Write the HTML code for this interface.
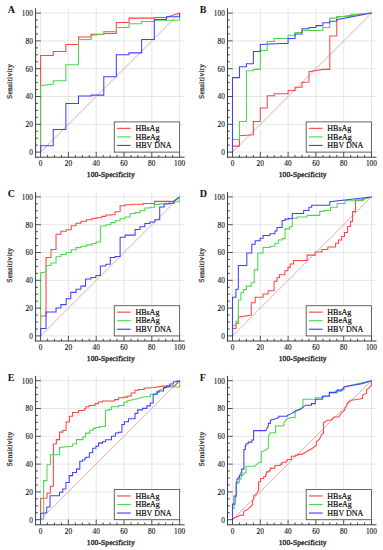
<!DOCTYPE html><html><head><meta charset="utf-8"><style>html,body{margin:0;padding:0;background:#fff;}svg{display:block;}text{font-family:"Liberation Serif",serif;}</style></head><body>
<svg width="383" height="550" viewBox="0 0 383 550">
<rect width="383" height="550" fill="#fff"/>
<line x1="40.60" y1="152.10" x2="184.10" y2="152.10" stroke="#e0e0e0" stroke-width="0.8"/>
<line x1="40.60" y1="152.10" x2="40.60" y2="8.30" stroke="#e0e0e0" stroke-width="0.8"/>
<line x1="40.60" y1="124.30" x2="184.10" y2="124.30" stroke="#e0e0e0" stroke-width="0.8"/>
<line x1="68.40" y1="152.10" x2="68.40" y2="8.30" stroke="#e0e0e0" stroke-width="0.8"/>
<line x1="40.60" y1="96.50" x2="184.10" y2="96.50" stroke="#e0e0e0" stroke-width="0.8"/>
<line x1="96.20" y1="152.10" x2="96.20" y2="8.30" stroke="#e0e0e0" stroke-width="0.8"/>
<line x1="40.60" y1="68.70" x2="184.10" y2="68.70" stroke="#e0e0e0" stroke-width="0.8"/>
<line x1="124.00" y1="152.10" x2="124.00" y2="8.30" stroke="#e0e0e0" stroke-width="0.8"/>
<line x1="40.60" y1="40.90" x2="184.10" y2="40.90" stroke="#e0e0e0" stroke-width="0.8"/>
<line x1="151.80" y1="152.10" x2="151.80" y2="8.30" stroke="#e0e0e0" stroke-width="0.8"/>
<line x1="40.60" y1="13.10" x2="184.10" y2="13.10" stroke="#e0e0e0" stroke-width="0.8"/>
<line x1="179.60" y1="152.10" x2="179.60" y2="8.30" stroke="#e0e0e0" stroke-width="0.8"/>
<line x1="40.60" y1="152.10" x2="179.60" y2="13.10" stroke="#dc9292" stroke-width="0.8"/>
<path d="M40.60,152.10 L40.60,55.50 L53.24,55.50 L53.24,51.46 L65.87,51.46 L65.87,44.51 L78.51,44.51 L78.51,37.01 L91.14,37.01 L91.14,34.37 L103.78,34.37 L103.78,33.39 L116.35,33.39 L116.35,22.55 L129.00,22.55 L129.00,18.10 L154.30,18.10 L154.30,17.41 L166.26,17.41 L179.60,13.10" fill="none" stroke="#ff4444" stroke-width="1.05" stroke-linejoin="miter"/>
<path d="M40.60,152.10 L40.60,85.80 L53.24,84.13 L53.24,80.65 L65.87,80.65 L65.87,64.67 L78.51,64.67 L78.51,39.51 L91.14,39.51 L91.14,35.34 L103.78,34.37 L103.78,31.59 L116.35,31.59 L116.35,27.56 L129.00,27.56 L129.00,23.66 L141.65,23.66 L141.65,21.58 L154.30,21.58 L154.30,20.19 L179.60,20.19 L179.60,17.97 L179.60,13.10" fill="none" stroke="#4cd64c" stroke-width="1.05" stroke-linejoin="miter"/>
<path d="M40.60,152.10 L40.60,145.71 L53.24,145.71 L53.24,129.44 L65.87,129.44 L65.87,103.45 L78.51,103.45 L78.51,96.08 L91.14,96.08 L91.14,95.11 L103.78,95.11 L103.78,94.41 L103.78,76.76 L116.35,76.76 L116.35,54.80 L129.00,54.80 L129.00,52.85 L141.65,52.85 L141.65,39.51 L154.30,39.51 L154.30,19.49 L166.53,19.49 L166.53,16.71 L179.60,16.71 L179.60,13.10" fill="none" stroke="#4040ff" stroke-width="1.05" stroke-linejoin="miter"/>
<line x1="35.60" y1="8.30" x2="35.60" y2="157.70" stroke="#3a3a3a" stroke-width="1"/>
<line x1="35.10" y1="157.20" x2="184.60" y2="157.20" stroke="#3a3a3a" stroke-width="1"/>
<line x1="35.60" y1="152.10" x2="40.80" y2="152.10" stroke="#3a3a3a" stroke-width="0.9"/>
<line x1="40.60" y1="157.20" x2="40.60" y2="152.00" stroke="#3a3a3a" stroke-width="0.9"/>
<line x1="35.60" y1="145.15" x2="37.90" y2="145.15" stroke="#3a3a3a" stroke-width="0.9"/>
<line x1="47.55" y1="157.20" x2="47.55" y2="154.90" stroke="#3a3a3a" stroke-width="0.9"/>
<line x1="35.60" y1="138.20" x2="37.90" y2="138.20" stroke="#3a3a3a" stroke-width="0.9"/>
<line x1="54.50" y1="157.20" x2="54.50" y2="154.90" stroke="#3a3a3a" stroke-width="0.9"/>
<line x1="35.60" y1="131.25" x2="37.90" y2="131.25" stroke="#3a3a3a" stroke-width="0.9"/>
<line x1="61.45" y1="157.20" x2="61.45" y2="154.90" stroke="#3a3a3a" stroke-width="0.9"/>
<line x1="35.60" y1="124.30" x2="40.80" y2="124.30" stroke="#3a3a3a" stroke-width="0.9"/>
<line x1="68.40" y1="157.20" x2="68.40" y2="152.00" stroke="#3a3a3a" stroke-width="0.9"/>
<line x1="35.60" y1="117.35" x2="37.90" y2="117.35" stroke="#3a3a3a" stroke-width="0.9"/>
<line x1="75.35" y1="157.20" x2="75.35" y2="154.90" stroke="#3a3a3a" stroke-width="0.9"/>
<line x1="35.60" y1="110.40" x2="37.90" y2="110.40" stroke="#3a3a3a" stroke-width="0.9"/>
<line x1="82.30" y1="157.20" x2="82.30" y2="154.90" stroke="#3a3a3a" stroke-width="0.9"/>
<line x1="35.60" y1="103.45" x2="37.90" y2="103.45" stroke="#3a3a3a" stroke-width="0.9"/>
<line x1="89.25" y1="157.20" x2="89.25" y2="154.90" stroke="#3a3a3a" stroke-width="0.9"/>
<line x1="35.60" y1="96.50" x2="40.80" y2="96.50" stroke="#3a3a3a" stroke-width="0.9"/>
<line x1="96.20" y1="157.20" x2="96.20" y2="152.00" stroke="#3a3a3a" stroke-width="0.9"/>
<line x1="35.60" y1="89.55" x2="37.90" y2="89.55" stroke="#3a3a3a" stroke-width="0.9"/>
<line x1="103.15" y1="157.20" x2="103.15" y2="154.90" stroke="#3a3a3a" stroke-width="0.9"/>
<line x1="35.60" y1="82.60" x2="37.90" y2="82.60" stroke="#3a3a3a" stroke-width="0.9"/>
<line x1="110.10" y1="157.20" x2="110.10" y2="154.90" stroke="#3a3a3a" stroke-width="0.9"/>
<line x1="35.60" y1="75.65" x2="37.90" y2="75.65" stroke="#3a3a3a" stroke-width="0.9"/>
<line x1="117.05" y1="157.20" x2="117.05" y2="154.90" stroke="#3a3a3a" stroke-width="0.9"/>
<line x1="35.60" y1="68.70" x2="40.80" y2="68.70" stroke="#3a3a3a" stroke-width="0.9"/>
<line x1="124.00" y1="157.20" x2="124.00" y2="152.00" stroke="#3a3a3a" stroke-width="0.9"/>
<line x1="35.60" y1="61.75" x2="37.90" y2="61.75" stroke="#3a3a3a" stroke-width="0.9"/>
<line x1="130.95" y1="157.20" x2="130.95" y2="154.90" stroke="#3a3a3a" stroke-width="0.9"/>
<line x1="35.60" y1="54.80" x2="37.90" y2="54.80" stroke="#3a3a3a" stroke-width="0.9"/>
<line x1="137.90" y1="157.20" x2="137.90" y2="154.90" stroke="#3a3a3a" stroke-width="0.9"/>
<line x1="35.60" y1="47.85" x2="37.90" y2="47.85" stroke="#3a3a3a" stroke-width="0.9"/>
<line x1="144.85" y1="157.20" x2="144.85" y2="154.90" stroke="#3a3a3a" stroke-width="0.9"/>
<line x1="35.60" y1="40.90" x2="40.80" y2="40.90" stroke="#3a3a3a" stroke-width="0.9"/>
<line x1="151.80" y1="157.20" x2="151.80" y2="152.00" stroke="#3a3a3a" stroke-width="0.9"/>
<line x1="35.60" y1="33.95" x2="37.90" y2="33.95" stroke="#3a3a3a" stroke-width="0.9"/>
<line x1="158.75" y1="157.20" x2="158.75" y2="154.90" stroke="#3a3a3a" stroke-width="0.9"/>
<line x1="35.60" y1="27.00" x2="37.90" y2="27.00" stroke="#3a3a3a" stroke-width="0.9"/>
<line x1="165.70" y1="157.20" x2="165.70" y2="154.90" stroke="#3a3a3a" stroke-width="0.9"/>
<line x1="35.60" y1="20.05" x2="37.90" y2="20.05" stroke="#3a3a3a" stroke-width="0.9"/>
<line x1="172.65" y1="157.20" x2="172.65" y2="154.90" stroke="#3a3a3a" stroke-width="0.9"/>
<line x1="35.60" y1="13.10" x2="40.80" y2="13.10" stroke="#3a3a3a" stroke-width="0.9"/>
<line x1="179.60" y1="157.20" x2="179.60" y2="152.00" stroke="#3a3a3a" stroke-width="0.9"/>
<text x="33.00" y="154.90" font-size="7.3" font-weight="normal" text-anchor="end" letter-spacing="0.1" fill="#111" stroke="#111" stroke-width="0.12">0</text>
<text x="40.60" y="166.30" font-size="7.3" font-weight="normal" text-anchor="middle" letter-spacing="0.1" fill="#111" stroke="#111" stroke-width="0.12">0</text>
<text x="33.00" y="127.10" font-size="7.3" font-weight="normal" text-anchor="end" letter-spacing="0.1" fill="#111" stroke="#111" stroke-width="0.12">20</text>
<text x="68.40" y="166.30" font-size="7.3" font-weight="normal" text-anchor="middle" letter-spacing="0.1" fill="#111" stroke="#111" stroke-width="0.12">20</text>
<text x="33.00" y="99.30" font-size="7.3" font-weight="normal" text-anchor="end" letter-spacing="0.1" fill="#111" stroke="#111" stroke-width="0.12">40</text>
<text x="96.20" y="166.30" font-size="7.3" font-weight="normal" text-anchor="middle" letter-spacing="0.1" fill="#111" stroke="#111" stroke-width="0.12">40</text>
<text x="33.00" y="71.50" font-size="7.3" font-weight="normal" text-anchor="end" letter-spacing="0.1" fill="#111" stroke="#111" stroke-width="0.12">60</text>
<text x="124.00" y="166.30" font-size="7.3" font-weight="normal" text-anchor="middle" letter-spacing="0.1" fill="#111" stroke="#111" stroke-width="0.12">60</text>
<text x="33.00" y="43.70" font-size="7.3" font-weight="normal" text-anchor="end" letter-spacing="0.1" fill="#111" stroke="#111" stroke-width="0.12">80</text>
<text x="151.80" y="166.30" font-size="7.3" font-weight="normal" text-anchor="middle" letter-spacing="0.1" fill="#111" stroke="#111" stroke-width="0.12">80</text>
<text x="33.00" y="15.90" font-size="7.3" font-weight="normal" text-anchor="end" letter-spacing="0.1" fill="#111" stroke="#111" stroke-width="0.12">100</text>
<text x="179.60" y="166.30" font-size="7.3" font-weight="normal" text-anchor="middle" letter-spacing="0.1" fill="#111" stroke="#111" stroke-width="0.12">100</text>
<g transform="translate(110.80,177.00) scale(0.1)"><text x="0" y="0" font-size="75.0" text-rendering="geometricPrecision" letter-spacing="1.2" stroke="#222" stroke-width="3.5" text-anchor="middle" fill="#222">100-Specificity</text></g>
<g transform="translate(12.30,81.40) rotate(-90) scale(0.1)"><text x="0" y="0" font-size="75.0" text-rendering="geometricPrecision" font-weight="normal" letter-spacing="2.8" stroke="#222" stroke-width="2.5" text-anchor="middle" fill="#222">Sensitivity</text></g>
<text x="7.80" y="13.30" font-size="10" font-weight="bold" fill="#111">A</text>
<rect x="114.30" y="121.90" width="65.30" height="30.20" fill="#fff" stroke="#555" stroke-width="0.9"/>
<line x1="117.10" y1="128.35" x2="130.70" y2="128.35" stroke="#ff4444" stroke-width="1.15"/>
<text x="135.40" y="131.05" font-size="8.0" font-weight="normal" fill="#000" stroke="#000" stroke-width="0.15">HBsAg</text>
<line x1="117.10" y1="136.90" x2="130.70" y2="136.90" stroke="#4cd64c" stroke-width="1.15"/>
<text x="135.40" y="139.60" font-size="8.0" font-weight="normal" fill="#000" stroke="#000" stroke-width="0.15">HBeAg</text>
<line x1="117.10" y1="145.45" x2="130.70" y2="145.45" stroke="#4040ff" stroke-width="1.15"/>
<text x="135.40" y="148.15" font-size="8.0" font-weight="normal" fill="#000" stroke="#000" stroke-width="0.15">HBV DNA</text>
<line x1="232.50" y1="152.10" x2="376.00" y2="152.10" stroke="#e0e0e0" stroke-width="0.8"/>
<line x1="232.50" y1="152.10" x2="232.50" y2="8.30" stroke="#e0e0e0" stroke-width="0.8"/>
<line x1="232.50" y1="124.30" x2="376.00" y2="124.30" stroke="#e0e0e0" stroke-width="0.8"/>
<line x1="260.30" y1="152.10" x2="260.30" y2="8.30" stroke="#e0e0e0" stroke-width="0.8"/>
<line x1="232.50" y1="96.50" x2="376.00" y2="96.50" stroke="#e0e0e0" stroke-width="0.8"/>
<line x1="288.10" y1="152.10" x2="288.10" y2="8.30" stroke="#e0e0e0" stroke-width="0.8"/>
<line x1="232.50" y1="68.70" x2="376.00" y2="68.70" stroke="#e0e0e0" stroke-width="0.8"/>
<line x1="315.90" y1="152.10" x2="315.90" y2="8.30" stroke="#e0e0e0" stroke-width="0.8"/>
<line x1="232.50" y1="40.90" x2="376.00" y2="40.90" stroke="#e0e0e0" stroke-width="0.8"/>
<line x1="343.70" y1="152.10" x2="343.70" y2="8.30" stroke="#e0e0e0" stroke-width="0.8"/>
<line x1="232.50" y1="13.10" x2="376.00" y2="13.10" stroke="#e0e0e0" stroke-width="0.8"/>
<line x1="371.50" y1="152.10" x2="371.50" y2="8.30" stroke="#e0e0e0" stroke-width="0.8"/>
<line x1="232.50" y1="152.10" x2="371.50" y2="13.10" stroke="#dc9292" stroke-width="0.8"/>
<path d="M232.50,152.10 L232.50,146.12 L239.45,146.12 L239.45,135.84 L253.35,134.72 L253.35,121.52 L260.30,121.52 L260.30,108.04 L267.25,108.04 L267.25,95.67 L274.20,95.67 L274.20,93.72 L288.10,93.72 L288.10,90.52 L295.05,90.52 L295.05,87.19 L302.00,87.19 L302.00,82.60 L308.95,81.91 L308.95,71.76 L322.85,69.39 L329.80,69.39 L329.80,36.03 L336.75,36.03 L336.75,17.13 L371.50,13.10" fill="none" stroke="#ff4444" stroke-width="1.05" stroke-linejoin="miter"/>
<path d="M232.50,152.10 L232.50,139.45 L239.45,139.45 L239.45,121.52 L246.40,121.52 L246.40,70.78 L253.35,70.78 L253.35,69.39 L260.30,69.39 L260.30,50.49 L267.25,50.49 L267.25,41.59 L274.20,41.59 L274.20,38.40 L288.10,38.40 L288.10,35.34 L295.05,35.34 L295.05,32.42 L302.00,32.42 L302.00,30.48 L322.85,30.48 L322.85,27.42 L329.80,27.42 L329.80,18.10 L336.75,18.10 L336.75,16.58 L350.65,16.58 L350.65,14.63 L371.50,13.10" fill="none" stroke="#4cd64c" stroke-width="1.05" stroke-linejoin="miter"/>
<path d="M232.50,152.10 L232.50,77.60 L239.45,77.60 L239.45,66.75 L246.40,66.75 L246.40,63.83 L253.35,63.83 L253.35,51.46 L260.30,51.46 L260.30,44.51 L281.15,43.54 L288.10,43.54 L288.10,38.40 L295.05,38.40 L295.05,33.95 L302.00,33.95 L302.00,28.67 L308.95,28.67 L308.95,27.42 L315.90,27.42 L315.90,25.61 L322.85,25.61 L322.85,22.69 L329.80,22.69 L329.80,21.16 L336.75,21.16 L336.75,19.77 L371.50,13.10" fill="none" stroke="#4040ff" stroke-width="1.05" stroke-linejoin="miter"/>
<line x1="227.50" y1="8.30" x2="227.50" y2="157.70" stroke="#3a3a3a" stroke-width="1"/>
<line x1="227.00" y1="157.20" x2="376.50" y2="157.20" stroke="#3a3a3a" stroke-width="1"/>
<line x1="227.50" y1="152.10" x2="232.70" y2="152.10" stroke="#3a3a3a" stroke-width="0.9"/>
<line x1="232.50" y1="157.20" x2="232.50" y2="152.00" stroke="#3a3a3a" stroke-width="0.9"/>
<line x1="227.50" y1="145.15" x2="229.80" y2="145.15" stroke="#3a3a3a" stroke-width="0.9"/>
<line x1="239.45" y1="157.20" x2="239.45" y2="154.90" stroke="#3a3a3a" stroke-width="0.9"/>
<line x1="227.50" y1="138.20" x2="229.80" y2="138.20" stroke="#3a3a3a" stroke-width="0.9"/>
<line x1="246.40" y1="157.20" x2="246.40" y2="154.90" stroke="#3a3a3a" stroke-width="0.9"/>
<line x1="227.50" y1="131.25" x2="229.80" y2="131.25" stroke="#3a3a3a" stroke-width="0.9"/>
<line x1="253.35" y1="157.20" x2="253.35" y2="154.90" stroke="#3a3a3a" stroke-width="0.9"/>
<line x1="227.50" y1="124.30" x2="232.70" y2="124.30" stroke="#3a3a3a" stroke-width="0.9"/>
<line x1="260.30" y1="157.20" x2="260.30" y2="152.00" stroke="#3a3a3a" stroke-width="0.9"/>
<line x1="227.50" y1="117.35" x2="229.80" y2="117.35" stroke="#3a3a3a" stroke-width="0.9"/>
<line x1="267.25" y1="157.20" x2="267.25" y2="154.90" stroke="#3a3a3a" stroke-width="0.9"/>
<line x1="227.50" y1="110.40" x2="229.80" y2="110.40" stroke="#3a3a3a" stroke-width="0.9"/>
<line x1="274.20" y1="157.20" x2="274.20" y2="154.90" stroke="#3a3a3a" stroke-width="0.9"/>
<line x1="227.50" y1="103.45" x2="229.80" y2="103.45" stroke="#3a3a3a" stroke-width="0.9"/>
<line x1="281.15" y1="157.20" x2="281.15" y2="154.90" stroke="#3a3a3a" stroke-width="0.9"/>
<line x1="227.50" y1="96.50" x2="232.70" y2="96.50" stroke="#3a3a3a" stroke-width="0.9"/>
<line x1="288.10" y1="157.20" x2="288.10" y2="152.00" stroke="#3a3a3a" stroke-width="0.9"/>
<line x1="227.50" y1="89.55" x2="229.80" y2="89.55" stroke="#3a3a3a" stroke-width="0.9"/>
<line x1="295.05" y1="157.20" x2="295.05" y2="154.90" stroke="#3a3a3a" stroke-width="0.9"/>
<line x1="227.50" y1="82.60" x2="229.80" y2="82.60" stroke="#3a3a3a" stroke-width="0.9"/>
<line x1="302.00" y1="157.20" x2="302.00" y2="154.90" stroke="#3a3a3a" stroke-width="0.9"/>
<line x1="227.50" y1="75.65" x2="229.80" y2="75.65" stroke="#3a3a3a" stroke-width="0.9"/>
<line x1="308.95" y1="157.20" x2="308.95" y2="154.90" stroke="#3a3a3a" stroke-width="0.9"/>
<line x1="227.50" y1="68.70" x2="232.70" y2="68.70" stroke="#3a3a3a" stroke-width="0.9"/>
<line x1="315.90" y1="157.20" x2="315.90" y2="152.00" stroke="#3a3a3a" stroke-width="0.9"/>
<line x1="227.50" y1="61.75" x2="229.80" y2="61.75" stroke="#3a3a3a" stroke-width="0.9"/>
<line x1="322.85" y1="157.20" x2="322.85" y2="154.90" stroke="#3a3a3a" stroke-width="0.9"/>
<line x1="227.50" y1="54.80" x2="229.80" y2="54.80" stroke="#3a3a3a" stroke-width="0.9"/>
<line x1="329.80" y1="157.20" x2="329.80" y2="154.90" stroke="#3a3a3a" stroke-width="0.9"/>
<line x1="227.50" y1="47.85" x2="229.80" y2="47.85" stroke="#3a3a3a" stroke-width="0.9"/>
<line x1="336.75" y1="157.20" x2="336.75" y2="154.90" stroke="#3a3a3a" stroke-width="0.9"/>
<line x1="227.50" y1="40.90" x2="232.70" y2="40.90" stroke="#3a3a3a" stroke-width="0.9"/>
<line x1="343.70" y1="157.20" x2="343.70" y2="152.00" stroke="#3a3a3a" stroke-width="0.9"/>
<line x1="227.50" y1="33.95" x2="229.80" y2="33.95" stroke="#3a3a3a" stroke-width="0.9"/>
<line x1="350.65" y1="157.20" x2="350.65" y2="154.90" stroke="#3a3a3a" stroke-width="0.9"/>
<line x1="227.50" y1="27.00" x2="229.80" y2="27.00" stroke="#3a3a3a" stroke-width="0.9"/>
<line x1="357.60" y1="157.20" x2="357.60" y2="154.90" stroke="#3a3a3a" stroke-width="0.9"/>
<line x1="227.50" y1="20.05" x2="229.80" y2="20.05" stroke="#3a3a3a" stroke-width="0.9"/>
<line x1="364.55" y1="157.20" x2="364.55" y2="154.90" stroke="#3a3a3a" stroke-width="0.9"/>
<line x1="227.50" y1="13.10" x2="232.70" y2="13.10" stroke="#3a3a3a" stroke-width="0.9"/>
<line x1="371.50" y1="157.20" x2="371.50" y2="152.00" stroke="#3a3a3a" stroke-width="0.9"/>
<text x="224.90" y="154.90" font-size="7.3" font-weight="normal" text-anchor="end" letter-spacing="0.1" fill="#111" stroke="#111" stroke-width="0.12">0</text>
<text x="232.50" y="166.30" font-size="7.3" font-weight="normal" text-anchor="middle" letter-spacing="0.1" fill="#111" stroke="#111" stroke-width="0.12">0</text>
<text x="224.90" y="127.10" font-size="7.3" font-weight="normal" text-anchor="end" letter-spacing="0.1" fill="#111" stroke="#111" stroke-width="0.12">20</text>
<text x="260.30" y="166.30" font-size="7.3" font-weight="normal" text-anchor="middle" letter-spacing="0.1" fill="#111" stroke="#111" stroke-width="0.12">20</text>
<text x="224.90" y="99.30" font-size="7.3" font-weight="normal" text-anchor="end" letter-spacing="0.1" fill="#111" stroke="#111" stroke-width="0.12">40</text>
<text x="288.10" y="166.30" font-size="7.3" font-weight="normal" text-anchor="middle" letter-spacing="0.1" fill="#111" stroke="#111" stroke-width="0.12">40</text>
<text x="224.90" y="71.50" font-size="7.3" font-weight="normal" text-anchor="end" letter-spacing="0.1" fill="#111" stroke="#111" stroke-width="0.12">60</text>
<text x="315.90" y="166.30" font-size="7.3" font-weight="normal" text-anchor="middle" letter-spacing="0.1" fill="#111" stroke="#111" stroke-width="0.12">60</text>
<text x="224.90" y="43.70" font-size="7.3" font-weight="normal" text-anchor="end" letter-spacing="0.1" fill="#111" stroke="#111" stroke-width="0.12">80</text>
<text x="343.70" y="166.30" font-size="7.3" font-weight="normal" text-anchor="middle" letter-spacing="0.1" fill="#111" stroke="#111" stroke-width="0.12">80</text>
<text x="224.90" y="15.90" font-size="7.3" font-weight="normal" text-anchor="end" letter-spacing="0.1" fill="#111" stroke="#111" stroke-width="0.12">100</text>
<text x="371.50" y="166.30" font-size="7.3" font-weight="normal" text-anchor="middle" letter-spacing="0.1" fill="#111" stroke="#111" stroke-width="0.12">100</text>
<g transform="translate(302.70,177.00) scale(0.1)"><text x="0" y="0" font-size="75.0" text-rendering="geometricPrecision" letter-spacing="1.2" stroke="#222" stroke-width="3.5" text-anchor="middle" fill="#222">100-Specificity</text></g>
<g transform="translate(204.20,81.40) rotate(-90) scale(0.1)"><text x="0" y="0" font-size="75.0" text-rendering="geometricPrecision" font-weight="normal" letter-spacing="2.8" stroke="#222" stroke-width="2.5" text-anchor="middle" fill="#222">Sensitivity</text></g>
<text x="199.70" y="13.30" font-size="10" font-weight="bold" fill="#111">B</text>
<rect x="306.20" y="121.90" width="65.30" height="30.20" fill="#fff" stroke="#555" stroke-width="0.9"/>
<line x1="309.00" y1="128.35" x2="322.60" y2="128.35" stroke="#ff4444" stroke-width="1.15"/>
<text x="327.30" y="131.05" font-size="8.0" font-weight="normal" fill="#000" stroke="#000" stroke-width="0.15">HBsAg</text>
<line x1="309.00" y1="136.90" x2="322.60" y2="136.90" stroke="#4cd64c" stroke-width="1.15"/>
<text x="327.30" y="139.60" font-size="8.0" font-weight="normal" fill="#000" stroke="#000" stroke-width="0.15">HBeAg</text>
<line x1="309.00" y1="145.45" x2="322.60" y2="145.45" stroke="#4040ff" stroke-width="1.15"/>
<text x="327.30" y="148.15" font-size="8.0" font-weight="normal" fill="#000" stroke="#000" stroke-width="0.15">HBV DNA</text>
<line x1="40.60" y1="335.90" x2="184.10" y2="335.90" stroke="#e0e0e0" stroke-width="0.8"/>
<line x1="40.60" y1="335.90" x2="40.60" y2="192.10" stroke="#e0e0e0" stroke-width="0.8"/>
<line x1="40.60" y1="308.10" x2="184.10" y2="308.10" stroke="#e0e0e0" stroke-width="0.8"/>
<line x1="68.40" y1="335.90" x2="68.40" y2="192.10" stroke="#e0e0e0" stroke-width="0.8"/>
<line x1="40.60" y1="280.30" x2="184.10" y2="280.30" stroke="#e0e0e0" stroke-width="0.8"/>
<line x1="96.20" y1="335.90" x2="96.20" y2="192.10" stroke="#e0e0e0" stroke-width="0.8"/>
<line x1="40.60" y1="252.50" x2="184.10" y2="252.50" stroke="#e0e0e0" stroke-width="0.8"/>
<line x1="124.00" y1="335.90" x2="124.00" y2="192.10" stroke="#e0e0e0" stroke-width="0.8"/>
<line x1="40.60" y1="224.70" x2="184.10" y2="224.70" stroke="#e0e0e0" stroke-width="0.8"/>
<line x1="151.80" y1="335.90" x2="151.80" y2="192.10" stroke="#e0e0e0" stroke-width="0.8"/>
<line x1="40.60" y1="196.90" x2="184.10" y2="196.90" stroke="#e0e0e0" stroke-width="0.8"/>
<line x1="179.60" y1="335.90" x2="179.60" y2="192.10" stroke="#e0e0e0" stroke-width="0.8"/>
<line x1="40.60" y1="335.90" x2="179.60" y2="196.90" stroke="#dc9292" stroke-width="0.8"/>
<path d="M40.60,335.90 L40.60,316.02 L46.02,316.02 L46.02,257.50 L51.02,257.50 L51.02,249.44 L56.03,249.44 L56.03,234.29 L60.89,234.29 L60.89,231.23 L66.18,231.23 L66.18,229.70 L71.18,229.70 L71.18,225.67 L76.05,225.67 L76.05,223.31 L80.91,223.31 L80.91,221.22 L86.47,221.22 L86.47,219.83 L92.03,219.83 L92.03,218.44 L96.20,218.44 L96.20,217.75 L101.76,217.75 L101.76,216.36 L105.93,216.36 L105.93,214.97 L110.79,214.97 L110.79,214.69 L115.10,214.69 L115.10,211.77 L120.11,211.77 L120.11,205.80 L125.11,205.80 L125.11,204.82 L131.92,204.82 L131.92,204.27 L143.46,204.27 L143.46,203.43 L154.44,203.43 L154.44,201.35 L173.90,201.35 L179.60,196.90" fill="none" stroke="#ff4444" stroke-width="1.05" stroke-linejoin="miter"/>
<path d="M40.60,335.90 L40.60,272.79 L46.02,271.96 L46.02,265.57 L51.02,265.57 L51.02,262.92 L56.03,262.92 L56.03,256.67 L60.89,256.67 L60.89,254.58 L66.18,254.58 L66.18,252.50 L71.18,252.50 L71.18,249.72 L76.05,249.72 L76.05,247.63 L80.91,247.63 L80.91,246.25 L86.47,246.25 L86.47,244.85 L92.03,244.85 L92.03,243.46 L96.20,243.46 L96.20,242.07 L100.37,242.07 L100.37,226.09 L105.79,226.09 L105.79,224.70 L110.79,224.70 L110.79,222.61 L115.10,222.61 L115.10,220.67 L120.11,220.67 L120.11,218.72 L125.11,218.72 L125.11,217.06 L130.12,217.06 L130.12,213.58 L135.12,213.58 L135.12,212.61 L139.98,212.61 L139.98,210.80 L144.85,210.80 L144.85,208.02 L149.85,208.02 L149.85,207.32 L154.44,207.32 L154.44,204.41 L159.31,204.41 L159.31,203.85 L164.17,203.85 L164.17,203.15 L173.90,203.15 L173.90,201.76 L179.32,201.76 L179.32,201.35 L179.32,196.90" fill="none" stroke="#4cd64c" stroke-width="1.05" stroke-linejoin="miter"/>
<path d="M40.60,335.90 L40.60,328.53 L46.02,328.53 L46.02,311.99 L56.03,311.99 L56.03,307.96 L60.89,307.96 L60.89,304.62 L66.18,304.62 L66.18,298.65 L70.76,298.65 L70.76,292.39 L76.05,292.39 L76.05,289.33 L80.91,289.33 L80.91,286.14 L85.50,286.14 L85.50,278.91 L90.92,278.91 L90.92,277.52 L95.92,277.52 L95.92,275.44 L100.37,275.44 L100.37,265.98 L105.79,265.98 L105.79,264.31 L110.24,264.31 L110.24,260.42 L110.24,257.50 L115.10,257.50 L115.10,256.53 L120.11,256.53 L120.11,237.21 L125.11,237.21 L125.11,235.12 L135.12,235.12 L135.12,229.56 L139.98,229.56 L139.98,226.65 L144.85,226.65 L144.85,223.59 L149.85,223.59 L149.85,221.92 L154.72,221.92 L154.72,219.83 L159.72,219.83 L159.72,206.91 L164.17,206.91 L164.17,203.99 L169.04,203.99 L169.04,203.15 L173.90,203.15 L173.90,200.93 L179.60,196.90" fill="none" stroke="#4040ff" stroke-width="1.05" stroke-linejoin="miter"/>
<line x1="35.60" y1="192.10" x2="35.60" y2="341.50" stroke="#3a3a3a" stroke-width="1"/>
<line x1="35.10" y1="341.00" x2="184.60" y2="341.00" stroke="#3a3a3a" stroke-width="1"/>
<line x1="35.60" y1="335.90" x2="40.80" y2="335.90" stroke="#3a3a3a" stroke-width="0.9"/>
<line x1="40.60" y1="341.00" x2="40.60" y2="335.80" stroke="#3a3a3a" stroke-width="0.9"/>
<line x1="35.60" y1="328.95" x2="37.90" y2="328.95" stroke="#3a3a3a" stroke-width="0.9"/>
<line x1="47.55" y1="341.00" x2="47.55" y2="338.70" stroke="#3a3a3a" stroke-width="0.9"/>
<line x1="35.60" y1="322.00" x2="37.90" y2="322.00" stroke="#3a3a3a" stroke-width="0.9"/>
<line x1="54.50" y1="341.00" x2="54.50" y2="338.70" stroke="#3a3a3a" stroke-width="0.9"/>
<line x1="35.60" y1="315.05" x2="37.90" y2="315.05" stroke="#3a3a3a" stroke-width="0.9"/>
<line x1="61.45" y1="341.00" x2="61.45" y2="338.70" stroke="#3a3a3a" stroke-width="0.9"/>
<line x1="35.60" y1="308.10" x2="40.80" y2="308.10" stroke="#3a3a3a" stroke-width="0.9"/>
<line x1="68.40" y1="341.00" x2="68.40" y2="335.80" stroke="#3a3a3a" stroke-width="0.9"/>
<line x1="35.60" y1="301.15" x2="37.90" y2="301.15" stroke="#3a3a3a" stroke-width="0.9"/>
<line x1="75.35" y1="341.00" x2="75.35" y2="338.70" stroke="#3a3a3a" stroke-width="0.9"/>
<line x1="35.60" y1="294.20" x2="37.90" y2="294.20" stroke="#3a3a3a" stroke-width="0.9"/>
<line x1="82.30" y1="341.00" x2="82.30" y2="338.70" stroke="#3a3a3a" stroke-width="0.9"/>
<line x1="35.60" y1="287.25" x2="37.90" y2="287.25" stroke="#3a3a3a" stroke-width="0.9"/>
<line x1="89.25" y1="341.00" x2="89.25" y2="338.70" stroke="#3a3a3a" stroke-width="0.9"/>
<line x1="35.60" y1="280.30" x2="40.80" y2="280.30" stroke="#3a3a3a" stroke-width="0.9"/>
<line x1="96.20" y1="341.00" x2="96.20" y2="335.80" stroke="#3a3a3a" stroke-width="0.9"/>
<line x1="35.60" y1="273.35" x2="37.90" y2="273.35" stroke="#3a3a3a" stroke-width="0.9"/>
<line x1="103.15" y1="341.00" x2="103.15" y2="338.70" stroke="#3a3a3a" stroke-width="0.9"/>
<line x1="35.60" y1="266.40" x2="37.90" y2="266.40" stroke="#3a3a3a" stroke-width="0.9"/>
<line x1="110.10" y1="341.00" x2="110.10" y2="338.70" stroke="#3a3a3a" stroke-width="0.9"/>
<line x1="35.60" y1="259.45" x2="37.90" y2="259.45" stroke="#3a3a3a" stroke-width="0.9"/>
<line x1="117.05" y1="341.00" x2="117.05" y2="338.70" stroke="#3a3a3a" stroke-width="0.9"/>
<line x1="35.60" y1="252.50" x2="40.80" y2="252.50" stroke="#3a3a3a" stroke-width="0.9"/>
<line x1="124.00" y1="341.00" x2="124.00" y2="335.80" stroke="#3a3a3a" stroke-width="0.9"/>
<line x1="35.60" y1="245.55" x2="37.90" y2="245.55" stroke="#3a3a3a" stroke-width="0.9"/>
<line x1="130.95" y1="341.00" x2="130.95" y2="338.70" stroke="#3a3a3a" stroke-width="0.9"/>
<line x1="35.60" y1="238.60" x2="37.90" y2="238.60" stroke="#3a3a3a" stroke-width="0.9"/>
<line x1="137.90" y1="341.00" x2="137.90" y2="338.70" stroke="#3a3a3a" stroke-width="0.9"/>
<line x1="35.60" y1="231.65" x2="37.90" y2="231.65" stroke="#3a3a3a" stroke-width="0.9"/>
<line x1="144.85" y1="341.00" x2="144.85" y2="338.70" stroke="#3a3a3a" stroke-width="0.9"/>
<line x1="35.60" y1="224.70" x2="40.80" y2="224.70" stroke="#3a3a3a" stroke-width="0.9"/>
<line x1="151.80" y1="341.00" x2="151.80" y2="335.80" stroke="#3a3a3a" stroke-width="0.9"/>
<line x1="35.60" y1="217.75" x2="37.90" y2="217.75" stroke="#3a3a3a" stroke-width="0.9"/>
<line x1="158.75" y1="341.00" x2="158.75" y2="338.70" stroke="#3a3a3a" stroke-width="0.9"/>
<line x1="35.60" y1="210.80" x2="37.90" y2="210.80" stroke="#3a3a3a" stroke-width="0.9"/>
<line x1="165.70" y1="341.00" x2="165.70" y2="338.70" stroke="#3a3a3a" stroke-width="0.9"/>
<line x1="35.60" y1="203.85" x2="37.90" y2="203.85" stroke="#3a3a3a" stroke-width="0.9"/>
<line x1="172.65" y1="341.00" x2="172.65" y2="338.70" stroke="#3a3a3a" stroke-width="0.9"/>
<line x1="35.60" y1="196.90" x2="40.80" y2="196.90" stroke="#3a3a3a" stroke-width="0.9"/>
<line x1="179.60" y1="341.00" x2="179.60" y2="335.80" stroke="#3a3a3a" stroke-width="0.9"/>
<text x="33.00" y="338.70" font-size="7.3" font-weight="normal" text-anchor="end" letter-spacing="0.1" fill="#111" stroke="#111" stroke-width="0.12">0</text>
<text x="40.60" y="350.10" font-size="7.3" font-weight="normal" text-anchor="middle" letter-spacing="0.1" fill="#111" stroke="#111" stroke-width="0.12">0</text>
<text x="33.00" y="310.90" font-size="7.3" font-weight="normal" text-anchor="end" letter-spacing="0.1" fill="#111" stroke="#111" stroke-width="0.12">20</text>
<text x="68.40" y="350.10" font-size="7.3" font-weight="normal" text-anchor="middle" letter-spacing="0.1" fill="#111" stroke="#111" stroke-width="0.12">20</text>
<text x="33.00" y="283.10" font-size="7.3" font-weight="normal" text-anchor="end" letter-spacing="0.1" fill="#111" stroke="#111" stroke-width="0.12">40</text>
<text x="96.20" y="350.10" font-size="7.3" font-weight="normal" text-anchor="middle" letter-spacing="0.1" fill="#111" stroke="#111" stroke-width="0.12">40</text>
<text x="33.00" y="255.30" font-size="7.3" font-weight="normal" text-anchor="end" letter-spacing="0.1" fill="#111" stroke="#111" stroke-width="0.12">60</text>
<text x="124.00" y="350.10" font-size="7.3" font-weight="normal" text-anchor="middle" letter-spacing="0.1" fill="#111" stroke="#111" stroke-width="0.12">60</text>
<text x="33.00" y="227.50" font-size="7.3" font-weight="normal" text-anchor="end" letter-spacing="0.1" fill="#111" stroke="#111" stroke-width="0.12">80</text>
<text x="151.80" y="350.10" font-size="7.3" font-weight="normal" text-anchor="middle" letter-spacing="0.1" fill="#111" stroke="#111" stroke-width="0.12">80</text>
<text x="33.00" y="199.70" font-size="7.3" font-weight="normal" text-anchor="end" letter-spacing="0.1" fill="#111" stroke="#111" stroke-width="0.12">100</text>
<text x="179.60" y="350.10" font-size="7.3" font-weight="normal" text-anchor="middle" letter-spacing="0.1" fill="#111" stroke="#111" stroke-width="0.12">100</text>
<g transform="translate(110.80,360.80) scale(0.1)"><text x="0" y="0" font-size="75.0" text-rendering="geometricPrecision" letter-spacing="1.2" stroke="#222" stroke-width="3.5" text-anchor="middle" fill="#222">100-Specificity</text></g>
<g transform="translate(12.30,265.20) rotate(-90) scale(0.1)"><text x="0" y="0" font-size="75.0" text-rendering="geometricPrecision" font-weight="normal" letter-spacing="2.8" stroke="#222" stroke-width="2.5" text-anchor="middle" fill="#222">Sensitivity</text></g>
<text x="7.80" y="197.10" font-size="10" font-weight="bold" fill="#111">C</text>
<rect x="114.30" y="305.70" width="65.30" height="30.20" fill="#fff" stroke="#555" stroke-width="0.9"/>
<line x1="117.10" y1="312.15" x2="130.70" y2="312.15" stroke="#ff4444" stroke-width="1.15"/>
<text x="135.40" y="314.85" font-size="8.0" font-weight="normal" fill="#000" stroke="#000" stroke-width="0.15">HBsAg</text>
<line x1="117.10" y1="320.70" x2="130.70" y2="320.70" stroke="#4cd64c" stroke-width="1.15"/>
<text x="135.40" y="323.40" font-size="8.0" font-weight="normal" fill="#000" stroke="#000" stroke-width="0.15">HBeAg</text>
<line x1="117.10" y1="329.25" x2="130.70" y2="329.25" stroke="#4040ff" stroke-width="1.15"/>
<text x="135.40" y="331.95" font-size="8.0" font-weight="normal" fill="#000" stroke="#000" stroke-width="0.15">HBV DNA</text>
<line x1="232.50" y1="335.90" x2="376.00" y2="335.90" stroke="#e0e0e0" stroke-width="0.8"/>
<line x1="232.50" y1="335.90" x2="232.50" y2="192.10" stroke="#e0e0e0" stroke-width="0.8"/>
<line x1="232.50" y1="308.10" x2="376.00" y2="308.10" stroke="#e0e0e0" stroke-width="0.8"/>
<line x1="260.30" y1="335.90" x2="260.30" y2="192.10" stroke="#e0e0e0" stroke-width="0.8"/>
<line x1="232.50" y1="280.30" x2="376.00" y2="280.30" stroke="#e0e0e0" stroke-width="0.8"/>
<line x1="288.10" y1="335.90" x2="288.10" y2="192.10" stroke="#e0e0e0" stroke-width="0.8"/>
<line x1="232.50" y1="252.50" x2="376.00" y2="252.50" stroke="#e0e0e0" stroke-width="0.8"/>
<line x1="315.90" y1="335.90" x2="315.90" y2="192.10" stroke="#e0e0e0" stroke-width="0.8"/>
<line x1="232.50" y1="224.70" x2="376.00" y2="224.70" stroke="#e0e0e0" stroke-width="0.8"/>
<line x1="343.70" y1="335.90" x2="343.70" y2="192.10" stroke="#e0e0e0" stroke-width="0.8"/>
<line x1="232.50" y1="196.90" x2="376.00" y2="196.90" stroke="#e0e0e0" stroke-width="0.8"/>
<line x1="371.50" y1="335.90" x2="371.50" y2="192.10" stroke="#e0e0e0" stroke-width="0.8"/>
<line x1="232.50" y1="335.90" x2="371.50" y2="196.90" stroke="#dc9292" stroke-width="0.8"/>
<path d="M232.50,335.90 L232.50,328.53 L235.97,328.53 L235.97,323.25 L238.34,323.25 L238.34,317.13 L251.26,315.05 L251.26,302.68 L255.16,302.68 L255.16,297.26 L263.08,297.26 L263.08,294.06 L268.08,294.06 L268.08,290.72 L274.06,290.72 L274.06,281.27 L276.98,281.27 L276.98,277.66 L279.48,277.66 L279.48,274.74 L284.90,274.74 L284.90,270.71 L287.96,270.71 L287.96,267.37 L290.19,267.37 L290.19,263.90 L293.66,263.90 L293.66,260.42 L307.14,260.42 L307.14,255.14 L315.20,255.14 L315.20,251.94 L321.88,251.94 L321.88,249.58 L327.85,249.58 L327.85,247.08 L335.64,247.08 L335.64,243.19 L338.56,243.19 L338.56,239.99 L341.62,239.99 L341.62,236.51 L344.53,236.51 L344.53,232.48 L347.59,232.48 L347.59,226.51 L350.51,226.51 L350.51,221.50 L352.46,221.50 L352.46,211.63 L355.51,211.63 L355.51,200.10 L361.49,200.10 L361.49,199.68 L371.50,196.90" fill="none" stroke="#ff4444" stroke-width="1.05" stroke-linejoin="miter"/>
<path d="M232.50,335.90 L232.50,325.47 L235.97,325.47 L235.97,321.17 L238.34,321.17 L238.34,300.04 L240.84,300.04 L240.84,292.81 L243.34,292.81 L243.34,289.61 L246.40,289.61 L246.40,286.14 L251.26,286.14 L251.26,282.66 L254.18,282.66 L254.18,269.88 L257.80,269.88 L257.80,253.06 L263.08,253.06 L263.08,247.50 L270.03,247.50 L270.03,246.25 L274.89,246.25 L274.89,243.19 L278.37,243.19 L278.37,239.99 L282.12,239.99 L282.12,238.60 L285.04,238.60 L285.04,228.87 L289.49,228.87 L289.49,226.78 L292.27,226.78 L292.27,218.17 L297.13,218.17 L297.13,216.92 L307.14,216.92 L307.14,215.39 L319.79,215.39 L319.79,211.36 L323.68,211.36 L323.68,210.52 L330.50,210.52 L330.50,207.19 L337.17,207.19 L337.17,203.57 L345.09,203.57 L345.09,200.65 L363.30,200.65 L363.30,198.98 L371.50,196.90" fill="none" stroke="#4cd64c" stroke-width="1.05" stroke-linejoin="miter"/>
<path d="M232.50,335.90 L232.50,297.26 L235.97,297.26 L235.97,289.33 L238.34,289.33 L238.34,265.57 L246.82,265.57 L246.82,253.06 L251.82,253.06 L251.82,244.16 L255.16,244.16 L255.16,240.69 L260.16,240.69 L260.16,238.18 L263.08,238.18 L263.08,235.40 L270.03,235.40 L270.03,233.73 L274.89,233.73 L274.89,230.95 L276.98,230.95 L276.98,227.48 L282.12,227.48 L282.12,220.53 L285.04,220.53 L285.04,219.14 L288.52,219.14 L288.52,218.44 L292.27,218.44 L292.27,213.58 L303.67,213.58 L303.67,210.52 L308.95,210.52 L308.95,207.19 L311.73,207.19 L311.73,205.24 L329.80,205.24 L329.80,201.63 L371.50,196.90" fill="none" stroke="#4040ff" stroke-width="1.05" stroke-linejoin="miter"/>
<line x1="227.50" y1="192.10" x2="227.50" y2="341.50" stroke="#3a3a3a" stroke-width="1"/>
<line x1="227.00" y1="341.00" x2="376.50" y2="341.00" stroke="#3a3a3a" stroke-width="1"/>
<line x1="227.50" y1="335.90" x2="232.70" y2="335.90" stroke="#3a3a3a" stroke-width="0.9"/>
<line x1="232.50" y1="341.00" x2="232.50" y2="335.80" stroke="#3a3a3a" stroke-width="0.9"/>
<line x1="227.50" y1="328.95" x2="229.80" y2="328.95" stroke="#3a3a3a" stroke-width="0.9"/>
<line x1="239.45" y1="341.00" x2="239.45" y2="338.70" stroke="#3a3a3a" stroke-width="0.9"/>
<line x1="227.50" y1="322.00" x2="229.80" y2="322.00" stroke="#3a3a3a" stroke-width="0.9"/>
<line x1="246.40" y1="341.00" x2="246.40" y2="338.70" stroke="#3a3a3a" stroke-width="0.9"/>
<line x1="227.50" y1="315.05" x2="229.80" y2="315.05" stroke="#3a3a3a" stroke-width="0.9"/>
<line x1="253.35" y1="341.00" x2="253.35" y2="338.70" stroke="#3a3a3a" stroke-width="0.9"/>
<line x1="227.50" y1="308.10" x2="232.70" y2="308.10" stroke="#3a3a3a" stroke-width="0.9"/>
<line x1="260.30" y1="341.00" x2="260.30" y2="335.80" stroke="#3a3a3a" stroke-width="0.9"/>
<line x1="227.50" y1="301.15" x2="229.80" y2="301.15" stroke="#3a3a3a" stroke-width="0.9"/>
<line x1="267.25" y1="341.00" x2="267.25" y2="338.70" stroke="#3a3a3a" stroke-width="0.9"/>
<line x1="227.50" y1="294.20" x2="229.80" y2="294.20" stroke="#3a3a3a" stroke-width="0.9"/>
<line x1="274.20" y1="341.00" x2="274.20" y2="338.70" stroke="#3a3a3a" stroke-width="0.9"/>
<line x1="227.50" y1="287.25" x2="229.80" y2="287.25" stroke="#3a3a3a" stroke-width="0.9"/>
<line x1="281.15" y1="341.00" x2="281.15" y2="338.70" stroke="#3a3a3a" stroke-width="0.9"/>
<line x1="227.50" y1="280.30" x2="232.70" y2="280.30" stroke="#3a3a3a" stroke-width="0.9"/>
<line x1="288.10" y1="341.00" x2="288.10" y2="335.80" stroke="#3a3a3a" stroke-width="0.9"/>
<line x1="227.50" y1="273.35" x2="229.80" y2="273.35" stroke="#3a3a3a" stroke-width="0.9"/>
<line x1="295.05" y1="341.00" x2="295.05" y2="338.70" stroke="#3a3a3a" stroke-width="0.9"/>
<line x1="227.50" y1="266.40" x2="229.80" y2="266.40" stroke="#3a3a3a" stroke-width="0.9"/>
<line x1="302.00" y1="341.00" x2="302.00" y2="338.70" stroke="#3a3a3a" stroke-width="0.9"/>
<line x1="227.50" y1="259.45" x2="229.80" y2="259.45" stroke="#3a3a3a" stroke-width="0.9"/>
<line x1="308.95" y1="341.00" x2="308.95" y2="338.70" stroke="#3a3a3a" stroke-width="0.9"/>
<line x1="227.50" y1="252.50" x2="232.70" y2="252.50" stroke="#3a3a3a" stroke-width="0.9"/>
<line x1="315.90" y1="341.00" x2="315.90" y2="335.80" stroke="#3a3a3a" stroke-width="0.9"/>
<line x1="227.50" y1="245.55" x2="229.80" y2="245.55" stroke="#3a3a3a" stroke-width="0.9"/>
<line x1="322.85" y1="341.00" x2="322.85" y2="338.70" stroke="#3a3a3a" stroke-width="0.9"/>
<line x1="227.50" y1="238.60" x2="229.80" y2="238.60" stroke="#3a3a3a" stroke-width="0.9"/>
<line x1="329.80" y1="341.00" x2="329.80" y2="338.70" stroke="#3a3a3a" stroke-width="0.9"/>
<line x1="227.50" y1="231.65" x2="229.80" y2="231.65" stroke="#3a3a3a" stroke-width="0.9"/>
<line x1="336.75" y1="341.00" x2="336.75" y2="338.70" stroke="#3a3a3a" stroke-width="0.9"/>
<line x1="227.50" y1="224.70" x2="232.70" y2="224.70" stroke="#3a3a3a" stroke-width="0.9"/>
<line x1="343.70" y1="341.00" x2="343.70" y2="335.80" stroke="#3a3a3a" stroke-width="0.9"/>
<line x1="227.50" y1="217.75" x2="229.80" y2="217.75" stroke="#3a3a3a" stroke-width="0.9"/>
<line x1="350.65" y1="341.00" x2="350.65" y2="338.70" stroke="#3a3a3a" stroke-width="0.9"/>
<line x1="227.50" y1="210.80" x2="229.80" y2="210.80" stroke="#3a3a3a" stroke-width="0.9"/>
<line x1="357.60" y1="341.00" x2="357.60" y2="338.70" stroke="#3a3a3a" stroke-width="0.9"/>
<line x1="227.50" y1="203.85" x2="229.80" y2="203.85" stroke="#3a3a3a" stroke-width="0.9"/>
<line x1="364.55" y1="341.00" x2="364.55" y2="338.70" stroke="#3a3a3a" stroke-width="0.9"/>
<line x1="227.50" y1="196.90" x2="232.70" y2="196.90" stroke="#3a3a3a" stroke-width="0.9"/>
<line x1="371.50" y1="341.00" x2="371.50" y2="335.80" stroke="#3a3a3a" stroke-width="0.9"/>
<text x="224.90" y="338.70" font-size="7.3" font-weight="normal" text-anchor="end" letter-spacing="0.1" fill="#111" stroke="#111" stroke-width="0.12">0</text>
<text x="232.50" y="350.10" font-size="7.3" font-weight="normal" text-anchor="middle" letter-spacing="0.1" fill="#111" stroke="#111" stroke-width="0.12">0</text>
<text x="224.90" y="310.90" font-size="7.3" font-weight="normal" text-anchor="end" letter-spacing="0.1" fill="#111" stroke="#111" stroke-width="0.12">20</text>
<text x="260.30" y="350.10" font-size="7.3" font-weight="normal" text-anchor="middle" letter-spacing="0.1" fill="#111" stroke="#111" stroke-width="0.12">20</text>
<text x="224.90" y="283.10" font-size="7.3" font-weight="normal" text-anchor="end" letter-spacing="0.1" fill="#111" stroke="#111" stroke-width="0.12">40</text>
<text x="288.10" y="350.10" font-size="7.3" font-weight="normal" text-anchor="middle" letter-spacing="0.1" fill="#111" stroke="#111" stroke-width="0.12">40</text>
<text x="224.90" y="255.30" font-size="7.3" font-weight="normal" text-anchor="end" letter-spacing="0.1" fill="#111" stroke="#111" stroke-width="0.12">60</text>
<text x="315.90" y="350.10" font-size="7.3" font-weight="normal" text-anchor="middle" letter-spacing="0.1" fill="#111" stroke="#111" stroke-width="0.12">60</text>
<text x="224.90" y="227.50" font-size="7.3" font-weight="normal" text-anchor="end" letter-spacing="0.1" fill="#111" stroke="#111" stroke-width="0.12">80</text>
<text x="343.70" y="350.10" font-size="7.3" font-weight="normal" text-anchor="middle" letter-spacing="0.1" fill="#111" stroke="#111" stroke-width="0.12">80</text>
<text x="224.90" y="199.70" font-size="7.3" font-weight="normal" text-anchor="end" letter-spacing="0.1" fill="#111" stroke="#111" stroke-width="0.12">100</text>
<text x="371.50" y="350.10" font-size="7.3" font-weight="normal" text-anchor="middle" letter-spacing="0.1" fill="#111" stroke="#111" stroke-width="0.12">100</text>
<g transform="translate(302.70,360.80) scale(0.1)"><text x="0" y="0" font-size="75.0" text-rendering="geometricPrecision" letter-spacing="1.2" stroke="#222" stroke-width="3.5" text-anchor="middle" fill="#222">100-Specificity</text></g>
<g transform="translate(204.20,265.20) rotate(-90) scale(0.1)"><text x="0" y="0" font-size="75.0" text-rendering="geometricPrecision" font-weight="normal" letter-spacing="2.8" stroke="#222" stroke-width="2.5" text-anchor="middle" fill="#222">Sensitivity</text></g>
<text x="199.70" y="197.10" font-size="10" font-weight="bold" fill="#111">D</text>
<rect x="306.20" y="305.70" width="65.30" height="30.20" fill="#fff" stroke="#555" stroke-width="0.9"/>
<line x1="309.00" y1="312.15" x2="322.60" y2="312.15" stroke="#ff4444" stroke-width="1.15"/>
<text x="327.30" y="314.85" font-size="8.0" font-weight="normal" fill="#000" stroke="#000" stroke-width="0.15">HBsAg</text>
<line x1="309.00" y1="320.70" x2="322.60" y2="320.70" stroke="#4cd64c" stroke-width="1.15"/>
<text x="327.30" y="323.40" font-size="8.0" font-weight="normal" fill="#000" stroke="#000" stroke-width="0.15">HBeAg</text>
<line x1="309.00" y1="329.25" x2="322.60" y2="329.25" stroke="#4040ff" stroke-width="1.15"/>
<text x="327.30" y="331.95" font-size="8.0" font-weight="normal" fill="#000" stroke="#000" stroke-width="0.15">HBV DNA</text>
<line x1="40.60" y1="519.70" x2="184.10" y2="519.70" stroke="#e0e0e0" stroke-width="0.8"/>
<line x1="40.60" y1="519.70" x2="40.60" y2="375.90" stroke="#e0e0e0" stroke-width="0.8"/>
<line x1="40.60" y1="491.90" x2="184.10" y2="491.90" stroke="#e0e0e0" stroke-width="0.8"/>
<line x1="68.40" y1="519.70" x2="68.40" y2="375.90" stroke="#e0e0e0" stroke-width="0.8"/>
<line x1="40.60" y1="464.10" x2="184.10" y2="464.10" stroke="#e0e0e0" stroke-width="0.8"/>
<line x1="96.20" y1="519.70" x2="96.20" y2="375.90" stroke="#e0e0e0" stroke-width="0.8"/>
<line x1="40.60" y1="436.30" x2="184.10" y2="436.30" stroke="#e0e0e0" stroke-width="0.8"/>
<line x1="124.00" y1="519.70" x2="124.00" y2="375.90" stroke="#e0e0e0" stroke-width="0.8"/>
<line x1="40.60" y1="408.50" x2="184.10" y2="408.50" stroke="#e0e0e0" stroke-width="0.8"/>
<line x1="151.80" y1="519.70" x2="151.80" y2="375.90" stroke="#e0e0e0" stroke-width="0.8"/>
<line x1="40.60" y1="380.70" x2="184.10" y2="380.70" stroke="#e0e0e0" stroke-width="0.8"/>
<line x1="179.60" y1="519.70" x2="179.60" y2="375.90" stroke="#e0e0e0" stroke-width="0.8"/>
<line x1="40.60" y1="519.70" x2="179.60" y2="380.70" stroke="#dc9292" stroke-width="0.8"/>
<path d="M40.60,519.70 L40.60,498.57 L46.99,498.02 L46.99,493.15 L50.33,493.15 L50.33,486.20 L53.39,486.20 L53.39,444.08 L56.31,444.08 L56.31,439.64 L59.50,439.64 L59.50,432.13 L62.84,432.13 L62.84,430.46 L66.04,430.46 L66.04,421.98 L69.37,421.98 L69.37,416.15 L72.57,416.15 L72.57,412.53 L78.55,412.53 L78.55,410.59 L84.38,410.59 L84.38,408.78 L85.91,408.78 L85.91,406.83 L89.25,406.83 L89.25,405.58 L95.09,405.58 L95.09,403.64 L98.42,403.64 L98.42,401.97 L102.32,401.97 L102.32,400.99 L114.69,400.99 L114.69,399.60 L118.58,399.60 L118.58,397.66 L123.86,397.66 L123.86,397.10 L127.75,397.10 L127.75,395.99 L131.23,395.99 L131.23,392.93 L134.98,392.93 L134.98,390.15 L138.46,390.15 L138.46,389.46 L144.16,389.46 L144.16,388.35 L153.75,387.51 L163.61,386.12 L174.46,386.12 L179.60,380.70" fill="none" stroke="#ff4444" stroke-width="1.05" stroke-linejoin="miter"/>
<path d="M40.60,519.70 L43.66,519.14 L43.66,480.64 L46.99,480.64 L46.99,464.66 L50.47,464.66 L50.47,454.65 L59.50,454.65 L59.50,447.42 L72.57,446.17 L72.57,444.08 L76.46,444.08 L76.46,439.64 L83.00,439.64 L83.00,437.00 L85.64,437.00 L85.64,433.10 L89.81,433.10 L89.81,430.32 L93.14,430.32 L93.14,428.38 L95.78,428.38 L95.78,427.40 L99.67,427.40 L99.67,426.43 L104.96,426.43 L104.96,425.46 L105.51,425.46 L105.51,410.17 L108.85,410.17 L108.85,409.47 L111.35,409.47 L111.35,406.83 L118.58,406.83 L118.58,405.58 L123.86,405.58 L123.86,402.25 L127.06,402.25 L127.06,400.99 L138.46,398.49 L144.16,396.82 L150.41,396.82 L150.41,394.32 L156.11,394.32 L156.11,392.10 L162.92,388.62 L169.31,386.96 L179.60,386.96 L179.60,380.70" fill="none" stroke="#4cd64c" stroke-width="1.05" stroke-linejoin="miter"/>
<path d="M40.60,519.70 L40.60,513.17 L43.66,513.17 L46.72,512.47 L46.72,507.05 L50.05,507.05 L50.05,495.65 L59.50,495.65 L59.50,492.32 L62.70,492.32 L62.70,488.98 L65.90,488.98 L65.90,482.45 L69.23,482.45 L69.23,475.64 L72.57,475.64 L72.57,472.44 L76.46,472.44 L76.46,469.10 L79.80,469.10 L79.80,461.32 L82.44,461.32 L82.44,459.93 L84.94,459.93 L84.94,457.98 L86.19,457.98 L86.19,457.29 L89.39,457.29 L89.39,452.84 L92.72,452.84 L92.72,448.25 L95.92,448.25 L95.92,446.31 L98.56,446.31 L98.56,443.11 L102.45,443.11 L102.45,441.72 L105.65,441.72 L105.65,439.78 L111.49,439.78 L111.49,436.30 L115.38,436.30 L115.38,432.96 L118.58,432.96 L118.58,432.27 L121.91,432.27 L121.91,424.49 L124.42,424.49 L124.42,421.84 L128.45,421.84 L128.45,418.65 L134.98,418.65 L134.98,413.37 L137.76,413.37 L137.76,409.89 L142.63,409.89 L142.63,408.36 L146.94,408.36 L146.94,405.86 L150.27,405.86 L150.27,402.94 L153.19,402.94 L153.19,394.32 L157.22,394.32 L157.22,392.10 L158.89,392.10 L158.89,390.99 L163.61,390.99 L163.61,387.51 L166.39,387.51 L166.39,386.12 L169.87,386.12 L169.87,384.04 L173.34,384.04 L173.34,381.81 L176.82,381.81 L176.82,381.12 L179.60,381.12 L179.60,380.70" fill="none" stroke="#4040ff" stroke-width="1.05" stroke-linejoin="miter"/>
<line x1="35.60" y1="375.90" x2="35.60" y2="525.30" stroke="#3a3a3a" stroke-width="1"/>
<line x1="35.10" y1="524.80" x2="184.60" y2="524.80" stroke="#3a3a3a" stroke-width="1"/>
<line x1="35.60" y1="519.70" x2="40.80" y2="519.70" stroke="#3a3a3a" stroke-width="0.9"/>
<line x1="40.60" y1="524.80" x2="40.60" y2="519.60" stroke="#3a3a3a" stroke-width="0.9"/>
<line x1="35.60" y1="512.75" x2="37.90" y2="512.75" stroke="#3a3a3a" stroke-width="0.9"/>
<line x1="47.55" y1="524.80" x2="47.55" y2="522.50" stroke="#3a3a3a" stroke-width="0.9"/>
<line x1="35.60" y1="505.80" x2="37.90" y2="505.80" stroke="#3a3a3a" stroke-width="0.9"/>
<line x1="54.50" y1="524.80" x2="54.50" y2="522.50" stroke="#3a3a3a" stroke-width="0.9"/>
<line x1="35.60" y1="498.85" x2="37.90" y2="498.85" stroke="#3a3a3a" stroke-width="0.9"/>
<line x1="61.45" y1="524.80" x2="61.45" y2="522.50" stroke="#3a3a3a" stroke-width="0.9"/>
<line x1="35.60" y1="491.90" x2="40.80" y2="491.90" stroke="#3a3a3a" stroke-width="0.9"/>
<line x1="68.40" y1="524.80" x2="68.40" y2="519.60" stroke="#3a3a3a" stroke-width="0.9"/>
<line x1="35.60" y1="484.95" x2="37.90" y2="484.95" stroke="#3a3a3a" stroke-width="0.9"/>
<line x1="75.35" y1="524.80" x2="75.35" y2="522.50" stroke="#3a3a3a" stroke-width="0.9"/>
<line x1="35.60" y1="478.00" x2="37.90" y2="478.00" stroke="#3a3a3a" stroke-width="0.9"/>
<line x1="82.30" y1="524.80" x2="82.30" y2="522.50" stroke="#3a3a3a" stroke-width="0.9"/>
<line x1="35.60" y1="471.05" x2="37.90" y2="471.05" stroke="#3a3a3a" stroke-width="0.9"/>
<line x1="89.25" y1="524.80" x2="89.25" y2="522.50" stroke="#3a3a3a" stroke-width="0.9"/>
<line x1="35.60" y1="464.10" x2="40.80" y2="464.10" stroke="#3a3a3a" stroke-width="0.9"/>
<line x1="96.20" y1="524.80" x2="96.20" y2="519.60" stroke="#3a3a3a" stroke-width="0.9"/>
<line x1="35.60" y1="457.15" x2="37.90" y2="457.15" stroke="#3a3a3a" stroke-width="0.9"/>
<line x1="103.15" y1="524.80" x2="103.15" y2="522.50" stroke="#3a3a3a" stroke-width="0.9"/>
<line x1="35.60" y1="450.20" x2="37.90" y2="450.20" stroke="#3a3a3a" stroke-width="0.9"/>
<line x1="110.10" y1="524.80" x2="110.10" y2="522.50" stroke="#3a3a3a" stroke-width="0.9"/>
<line x1="35.60" y1="443.25" x2="37.90" y2="443.25" stroke="#3a3a3a" stroke-width="0.9"/>
<line x1="117.05" y1="524.80" x2="117.05" y2="522.50" stroke="#3a3a3a" stroke-width="0.9"/>
<line x1="35.60" y1="436.30" x2="40.80" y2="436.30" stroke="#3a3a3a" stroke-width="0.9"/>
<line x1="124.00" y1="524.80" x2="124.00" y2="519.60" stroke="#3a3a3a" stroke-width="0.9"/>
<line x1="35.60" y1="429.35" x2="37.90" y2="429.35" stroke="#3a3a3a" stroke-width="0.9"/>
<line x1="130.95" y1="524.80" x2="130.95" y2="522.50" stroke="#3a3a3a" stroke-width="0.9"/>
<line x1="35.60" y1="422.40" x2="37.90" y2="422.40" stroke="#3a3a3a" stroke-width="0.9"/>
<line x1="137.90" y1="524.80" x2="137.90" y2="522.50" stroke="#3a3a3a" stroke-width="0.9"/>
<line x1="35.60" y1="415.45" x2="37.90" y2="415.45" stroke="#3a3a3a" stroke-width="0.9"/>
<line x1="144.85" y1="524.80" x2="144.85" y2="522.50" stroke="#3a3a3a" stroke-width="0.9"/>
<line x1="35.60" y1="408.50" x2="40.80" y2="408.50" stroke="#3a3a3a" stroke-width="0.9"/>
<line x1="151.80" y1="524.80" x2="151.80" y2="519.60" stroke="#3a3a3a" stroke-width="0.9"/>
<line x1="35.60" y1="401.55" x2="37.90" y2="401.55" stroke="#3a3a3a" stroke-width="0.9"/>
<line x1="158.75" y1="524.80" x2="158.75" y2="522.50" stroke="#3a3a3a" stroke-width="0.9"/>
<line x1="35.60" y1="394.60" x2="37.90" y2="394.60" stroke="#3a3a3a" stroke-width="0.9"/>
<line x1="165.70" y1="524.80" x2="165.70" y2="522.50" stroke="#3a3a3a" stroke-width="0.9"/>
<line x1="35.60" y1="387.65" x2="37.90" y2="387.65" stroke="#3a3a3a" stroke-width="0.9"/>
<line x1="172.65" y1="524.80" x2="172.65" y2="522.50" stroke="#3a3a3a" stroke-width="0.9"/>
<line x1="35.60" y1="380.70" x2="40.80" y2="380.70" stroke="#3a3a3a" stroke-width="0.9"/>
<line x1="179.60" y1="524.80" x2="179.60" y2="519.60" stroke="#3a3a3a" stroke-width="0.9"/>
<text x="33.00" y="522.50" font-size="7.3" font-weight="normal" text-anchor="end" letter-spacing="0.1" fill="#111" stroke="#111" stroke-width="0.12">0</text>
<text x="40.60" y="533.90" font-size="7.3" font-weight="normal" text-anchor="middle" letter-spacing="0.1" fill="#111" stroke="#111" stroke-width="0.12">0</text>
<text x="33.00" y="494.70" font-size="7.3" font-weight="normal" text-anchor="end" letter-spacing="0.1" fill="#111" stroke="#111" stroke-width="0.12">20</text>
<text x="68.40" y="533.90" font-size="7.3" font-weight="normal" text-anchor="middle" letter-spacing="0.1" fill="#111" stroke="#111" stroke-width="0.12">20</text>
<text x="33.00" y="466.90" font-size="7.3" font-weight="normal" text-anchor="end" letter-spacing="0.1" fill="#111" stroke="#111" stroke-width="0.12">40</text>
<text x="96.20" y="533.90" font-size="7.3" font-weight="normal" text-anchor="middle" letter-spacing="0.1" fill="#111" stroke="#111" stroke-width="0.12">40</text>
<text x="33.00" y="439.10" font-size="7.3" font-weight="normal" text-anchor="end" letter-spacing="0.1" fill="#111" stroke="#111" stroke-width="0.12">60</text>
<text x="124.00" y="533.90" font-size="7.3" font-weight="normal" text-anchor="middle" letter-spacing="0.1" fill="#111" stroke="#111" stroke-width="0.12">60</text>
<text x="33.00" y="411.30" font-size="7.3" font-weight="normal" text-anchor="end" letter-spacing="0.1" fill="#111" stroke="#111" stroke-width="0.12">80</text>
<text x="151.80" y="533.90" font-size="7.3" font-weight="normal" text-anchor="middle" letter-spacing="0.1" fill="#111" stroke="#111" stroke-width="0.12">80</text>
<text x="33.00" y="383.50" font-size="7.3" font-weight="normal" text-anchor="end" letter-spacing="0.1" fill="#111" stroke="#111" stroke-width="0.12">100</text>
<text x="179.60" y="533.90" font-size="7.3" font-weight="normal" text-anchor="middle" letter-spacing="0.1" fill="#111" stroke="#111" stroke-width="0.12">100</text>
<g transform="translate(110.80,544.60) scale(0.1)"><text x="0" y="0" font-size="75.0" text-rendering="geometricPrecision" letter-spacing="1.2" stroke="#222" stroke-width="3.5" text-anchor="middle" fill="#222">100-Specificity</text></g>
<g transform="translate(12.30,449.00) rotate(-90) scale(0.1)"><text x="0" y="0" font-size="75.0" text-rendering="geometricPrecision" font-weight="normal" letter-spacing="2.8" stroke="#222" stroke-width="2.5" text-anchor="middle" fill="#222">Sensitivity</text></g>
<text x="7.80" y="380.90" font-size="10" font-weight="bold" fill="#111">E</text>
<rect x="114.30" y="489.50" width="65.30" height="30.20" fill="#fff" stroke="#555" stroke-width="0.9"/>
<line x1="117.10" y1="495.95" x2="130.70" y2="495.95" stroke="#ff4444" stroke-width="1.15"/>
<text x="135.40" y="498.65" font-size="8.0" font-weight="normal" fill="#000" stroke="#000" stroke-width="0.15">HBsAg</text>
<line x1="117.10" y1="504.50" x2="130.70" y2="504.50" stroke="#4cd64c" stroke-width="1.15"/>
<text x="135.40" y="507.20" font-size="8.0" font-weight="normal" fill="#000" stroke="#000" stroke-width="0.15">HBeAg</text>
<line x1="117.10" y1="513.05" x2="130.70" y2="513.05" stroke="#4040ff" stroke-width="1.15"/>
<text x="135.40" y="515.75" font-size="8.0" font-weight="normal" fill="#000" stroke="#000" stroke-width="0.15">HBV DNA</text>
<line x1="232.50" y1="519.70" x2="376.00" y2="519.70" stroke="#e0e0e0" stroke-width="0.8"/>
<line x1="232.50" y1="519.70" x2="232.50" y2="375.90" stroke="#e0e0e0" stroke-width="0.8"/>
<line x1="232.50" y1="491.90" x2="376.00" y2="491.90" stroke="#e0e0e0" stroke-width="0.8"/>
<line x1="260.30" y1="519.70" x2="260.30" y2="375.90" stroke="#e0e0e0" stroke-width="0.8"/>
<line x1="232.50" y1="464.10" x2="376.00" y2="464.10" stroke="#e0e0e0" stroke-width="0.8"/>
<line x1="288.10" y1="519.70" x2="288.10" y2="375.90" stroke="#e0e0e0" stroke-width="0.8"/>
<line x1="232.50" y1="436.30" x2="376.00" y2="436.30" stroke="#e0e0e0" stroke-width="0.8"/>
<line x1="315.90" y1="519.70" x2="315.90" y2="375.90" stroke="#e0e0e0" stroke-width="0.8"/>
<line x1="232.50" y1="408.50" x2="376.00" y2="408.50" stroke="#e0e0e0" stroke-width="0.8"/>
<line x1="343.70" y1="519.70" x2="343.70" y2="375.90" stroke="#e0e0e0" stroke-width="0.8"/>
<line x1="232.50" y1="380.70" x2="376.00" y2="380.70" stroke="#e0e0e0" stroke-width="0.8"/>
<line x1="371.50" y1="519.70" x2="371.50" y2="375.90" stroke="#e0e0e0" stroke-width="0.8"/>
<line x1="232.50" y1="519.70" x2="371.50" y2="380.70" stroke="#dc9292" stroke-width="0.8"/>
<path d="M232.50,519.70 L234.45,517.75 L240.42,515.25 L243.34,515.25 L243.34,514.84 L243.76,514.84 L243.76,511.08 L246.26,510.25 L248.76,508.58 L251.26,506.08 L252.52,504.83 L252.52,500.66 L253.77,499.82 L253.77,496.07 L256.27,493.99 L257.52,492.32 L258.63,489.82 L258.63,481.75 L260.58,481.75 L260.58,478.42 L263.77,478.42 L263.77,476.47 L265.86,476.47 L265.86,473.97 L266.42,473.97 L266.42,471.88 L269.06,471.88 L269.06,470.63 L270.31,470.63 L270.31,468.13 L274.89,468.13 L274.89,465.49 L280.18,465.49 L280.18,464.10 L282.12,464.10 L282.12,462.15 L286.01,462.15 L286.01,460.90 L287.27,460.90 L287.27,459.51 L291.30,459.51 L291.30,456.32 L295.19,456.32 L295.19,455.34 L297.83,455.34 L297.83,454.37 L301.72,454.37 L305.61,452.29 L309.09,450.20 L313.12,447.70 L316.32,445.34 L316.32,441.72 L319.51,439.22 L321.60,434.63 L323.54,433.24 L323.54,422.82 L327.44,420.18 L331.33,420.18 L333.97,416.98 L338.97,416.98 L341.34,412.81 L344.12,410.59 L346.48,405.86 L347.04,403.64 L350.51,400.16 L356.77,399.60 L362.60,398.49 L362.60,395.02 L366.63,393.21 L366.63,389.74 L368.30,388.62 L369.97,386.96 L371.50,385.15 L371.50,380.70" fill="none" stroke="#ff4444" stroke-width="1.05" stroke-linejoin="miter"/>
<path d="M232.50,519.70 L232.50,508.44 L234.03,508.44 L234.03,504.13 L235.56,504.13 L235.56,496.77 L236.53,496.77 L236.53,483.70 L238.06,483.70 L238.06,482.17 L239.45,482.17 L239.45,479.25 L240.98,479.25 L240.98,475.64 L242.37,475.64 L242.37,474.25 L243.90,474.25 L243.90,472.72 L245.98,472.72 L245.98,466.19 L254.74,466.19 L259.33,462.15 L261.27,462.15 L261.27,451.59 L263.77,450.90 L268.36,448.39 L268.36,436.44 L270.31,432.69 L275.59,432.69 L275.59,426.01 L282.82,426.01 L282.82,425.32 L284.07,425.32 L284.07,422.12 L287.27,418.79 L291.30,417.54 L295.19,417.54 L295.19,411.56 L297.83,409.61 L300.33,409.61 L302.97,407.67 L302.97,399.33 L315.48,399.33 L315.48,397.66 L323.41,397.66 L323.41,395.99 L329.38,395.99 L329.38,393.07 L337.31,393.07 L337.31,389.60 L344.12,389.60 L344.12,386.68 L371.50,380.70" fill="none" stroke="#4cd64c" stroke-width="1.05" stroke-linejoin="miter"/>
<path d="M232.50,519.70 L232.50,504.13 L234.03,504.13 L234.03,496.07 L236.11,496.07 L236.11,482.17 L236.95,482.17 L236.95,479.25 L238.06,479.25 L238.06,477.86 L239.45,477.86 L239.45,474.94 L240.98,474.94 L240.98,472.72 L241.67,472.72 L241.67,469.10 L243.90,469.10 L243.90,449.51 L245.29,449.51 L245.29,445.89 L245.98,445.89 L245.98,443.67 L248.21,443.67 L248.21,442.14 L251.82,442.14 L251.82,440.05 L253.63,440.05 L253.63,430.60 L265.86,430.60 L266.42,429.35 L268.36,426.01 L268.36,423.37 L270.31,423.37 L270.31,420.18 L275.59,418.79 L278.79,417.54 L278.79,416.28 L287.27,416.28 L287.27,415.45 L291.30,413.64 L293.80,412.25 L295.19,411.00 L297.83,410.31 L300.33,409.06 L302.97,407.11 L305.61,405.16 L311.45,405.16 L311.45,403.64 L315.34,403.64 L315.34,399.33 L322.29,399.33 L322.29,396.27 L329.38,396.27 L329.38,392.38 L336.06,392.38 L336.06,390.85 L341.34,390.85 L344.12,386.96 L350.51,385.70 L362.05,383.62 L371.50,380.70" fill="none" stroke="#4040ff" stroke-width="1.05" stroke-linejoin="miter"/>
<line x1="227.50" y1="375.90" x2="227.50" y2="525.30" stroke="#3a3a3a" stroke-width="1"/>
<line x1="227.00" y1="524.80" x2="376.50" y2="524.80" stroke="#3a3a3a" stroke-width="1"/>
<line x1="227.50" y1="519.70" x2="232.70" y2="519.70" stroke="#3a3a3a" stroke-width="0.9"/>
<line x1="232.50" y1="524.80" x2="232.50" y2="519.60" stroke="#3a3a3a" stroke-width="0.9"/>
<line x1="227.50" y1="512.75" x2="229.80" y2="512.75" stroke="#3a3a3a" stroke-width="0.9"/>
<line x1="239.45" y1="524.80" x2="239.45" y2="522.50" stroke="#3a3a3a" stroke-width="0.9"/>
<line x1="227.50" y1="505.80" x2="229.80" y2="505.80" stroke="#3a3a3a" stroke-width="0.9"/>
<line x1="246.40" y1="524.80" x2="246.40" y2="522.50" stroke="#3a3a3a" stroke-width="0.9"/>
<line x1="227.50" y1="498.85" x2="229.80" y2="498.85" stroke="#3a3a3a" stroke-width="0.9"/>
<line x1="253.35" y1="524.80" x2="253.35" y2="522.50" stroke="#3a3a3a" stroke-width="0.9"/>
<line x1="227.50" y1="491.90" x2="232.70" y2="491.90" stroke="#3a3a3a" stroke-width="0.9"/>
<line x1="260.30" y1="524.80" x2="260.30" y2="519.60" stroke="#3a3a3a" stroke-width="0.9"/>
<line x1="227.50" y1="484.95" x2="229.80" y2="484.95" stroke="#3a3a3a" stroke-width="0.9"/>
<line x1="267.25" y1="524.80" x2="267.25" y2="522.50" stroke="#3a3a3a" stroke-width="0.9"/>
<line x1="227.50" y1="478.00" x2="229.80" y2="478.00" stroke="#3a3a3a" stroke-width="0.9"/>
<line x1="274.20" y1="524.80" x2="274.20" y2="522.50" stroke="#3a3a3a" stroke-width="0.9"/>
<line x1="227.50" y1="471.05" x2="229.80" y2="471.05" stroke="#3a3a3a" stroke-width="0.9"/>
<line x1="281.15" y1="524.80" x2="281.15" y2="522.50" stroke="#3a3a3a" stroke-width="0.9"/>
<line x1="227.50" y1="464.10" x2="232.70" y2="464.10" stroke="#3a3a3a" stroke-width="0.9"/>
<line x1="288.10" y1="524.80" x2="288.10" y2="519.60" stroke="#3a3a3a" stroke-width="0.9"/>
<line x1="227.50" y1="457.15" x2="229.80" y2="457.15" stroke="#3a3a3a" stroke-width="0.9"/>
<line x1="295.05" y1="524.80" x2="295.05" y2="522.50" stroke="#3a3a3a" stroke-width="0.9"/>
<line x1="227.50" y1="450.20" x2="229.80" y2="450.20" stroke="#3a3a3a" stroke-width="0.9"/>
<line x1="302.00" y1="524.80" x2="302.00" y2="522.50" stroke="#3a3a3a" stroke-width="0.9"/>
<line x1="227.50" y1="443.25" x2="229.80" y2="443.25" stroke="#3a3a3a" stroke-width="0.9"/>
<line x1="308.95" y1="524.80" x2="308.95" y2="522.50" stroke="#3a3a3a" stroke-width="0.9"/>
<line x1="227.50" y1="436.30" x2="232.70" y2="436.30" stroke="#3a3a3a" stroke-width="0.9"/>
<line x1="315.90" y1="524.80" x2="315.90" y2="519.60" stroke="#3a3a3a" stroke-width="0.9"/>
<line x1="227.50" y1="429.35" x2="229.80" y2="429.35" stroke="#3a3a3a" stroke-width="0.9"/>
<line x1="322.85" y1="524.80" x2="322.85" y2="522.50" stroke="#3a3a3a" stroke-width="0.9"/>
<line x1="227.50" y1="422.40" x2="229.80" y2="422.40" stroke="#3a3a3a" stroke-width="0.9"/>
<line x1="329.80" y1="524.80" x2="329.80" y2="522.50" stroke="#3a3a3a" stroke-width="0.9"/>
<line x1="227.50" y1="415.45" x2="229.80" y2="415.45" stroke="#3a3a3a" stroke-width="0.9"/>
<line x1="336.75" y1="524.80" x2="336.75" y2="522.50" stroke="#3a3a3a" stroke-width="0.9"/>
<line x1="227.50" y1="408.50" x2="232.70" y2="408.50" stroke="#3a3a3a" stroke-width="0.9"/>
<line x1="343.70" y1="524.80" x2="343.70" y2="519.60" stroke="#3a3a3a" stroke-width="0.9"/>
<line x1="227.50" y1="401.55" x2="229.80" y2="401.55" stroke="#3a3a3a" stroke-width="0.9"/>
<line x1="350.65" y1="524.80" x2="350.65" y2="522.50" stroke="#3a3a3a" stroke-width="0.9"/>
<line x1="227.50" y1="394.60" x2="229.80" y2="394.60" stroke="#3a3a3a" stroke-width="0.9"/>
<line x1="357.60" y1="524.80" x2="357.60" y2="522.50" stroke="#3a3a3a" stroke-width="0.9"/>
<line x1="227.50" y1="387.65" x2="229.80" y2="387.65" stroke="#3a3a3a" stroke-width="0.9"/>
<line x1="364.55" y1="524.80" x2="364.55" y2="522.50" stroke="#3a3a3a" stroke-width="0.9"/>
<line x1="227.50" y1="380.70" x2="232.70" y2="380.70" stroke="#3a3a3a" stroke-width="0.9"/>
<line x1="371.50" y1="524.80" x2="371.50" y2="519.60" stroke="#3a3a3a" stroke-width="0.9"/>
<text x="224.90" y="522.50" font-size="7.3" font-weight="normal" text-anchor="end" letter-spacing="0.1" fill="#111" stroke="#111" stroke-width="0.12">0</text>
<text x="232.50" y="533.90" font-size="7.3" font-weight="normal" text-anchor="middle" letter-spacing="0.1" fill="#111" stroke="#111" stroke-width="0.12">0</text>
<text x="224.90" y="494.70" font-size="7.3" font-weight="normal" text-anchor="end" letter-spacing="0.1" fill="#111" stroke="#111" stroke-width="0.12">20</text>
<text x="260.30" y="533.90" font-size="7.3" font-weight="normal" text-anchor="middle" letter-spacing="0.1" fill="#111" stroke="#111" stroke-width="0.12">20</text>
<text x="224.90" y="466.90" font-size="7.3" font-weight="normal" text-anchor="end" letter-spacing="0.1" fill="#111" stroke="#111" stroke-width="0.12">40</text>
<text x="288.10" y="533.90" font-size="7.3" font-weight="normal" text-anchor="middle" letter-spacing="0.1" fill="#111" stroke="#111" stroke-width="0.12">40</text>
<text x="224.90" y="439.10" font-size="7.3" font-weight="normal" text-anchor="end" letter-spacing="0.1" fill="#111" stroke="#111" stroke-width="0.12">60</text>
<text x="315.90" y="533.90" font-size="7.3" font-weight="normal" text-anchor="middle" letter-spacing="0.1" fill="#111" stroke="#111" stroke-width="0.12">60</text>
<text x="224.90" y="411.30" font-size="7.3" font-weight="normal" text-anchor="end" letter-spacing="0.1" fill="#111" stroke="#111" stroke-width="0.12">80</text>
<text x="343.70" y="533.90" font-size="7.3" font-weight="normal" text-anchor="middle" letter-spacing="0.1" fill="#111" stroke="#111" stroke-width="0.12">80</text>
<text x="224.90" y="383.50" font-size="7.3" font-weight="normal" text-anchor="end" letter-spacing="0.1" fill="#111" stroke="#111" stroke-width="0.12">100</text>
<text x="371.50" y="533.90" font-size="7.3" font-weight="normal" text-anchor="middle" letter-spacing="0.1" fill="#111" stroke="#111" stroke-width="0.12">100</text>
<g transform="translate(302.70,544.60) scale(0.1)"><text x="0" y="0" font-size="75.0" text-rendering="geometricPrecision" letter-spacing="1.2" stroke="#222" stroke-width="3.5" text-anchor="middle" fill="#222">100-Specificity</text></g>
<g transform="translate(204.20,449.00) rotate(-90) scale(0.1)"><text x="0" y="0" font-size="75.0" text-rendering="geometricPrecision" font-weight="normal" letter-spacing="2.8" stroke="#222" stroke-width="2.5" text-anchor="middle" fill="#222">Sensitivity</text></g>
<text x="199.70" y="380.90" font-size="10" font-weight="bold" fill="#111">F</text>
<rect x="306.20" y="489.50" width="65.30" height="30.20" fill="#fff" stroke="#555" stroke-width="0.9"/>
<line x1="309.00" y1="495.95" x2="322.60" y2="495.95" stroke="#ff4444" stroke-width="1.15"/>
<text x="327.30" y="498.65" font-size="8.0" font-weight="normal" fill="#000" stroke="#000" stroke-width="0.15">HBsAg</text>
<line x1="309.00" y1="504.50" x2="322.60" y2="504.50" stroke="#4cd64c" stroke-width="1.15"/>
<text x="327.30" y="507.20" font-size="8.0" font-weight="normal" fill="#000" stroke="#000" stroke-width="0.15">HBeAg</text>
<line x1="309.00" y1="513.05" x2="322.60" y2="513.05" stroke="#4040ff" stroke-width="1.15"/>
<text x="327.30" y="515.75" font-size="8.0" font-weight="normal" fill="#000" stroke="#000" stroke-width="0.15">HBV DNA</text>
</svg></body></html>
